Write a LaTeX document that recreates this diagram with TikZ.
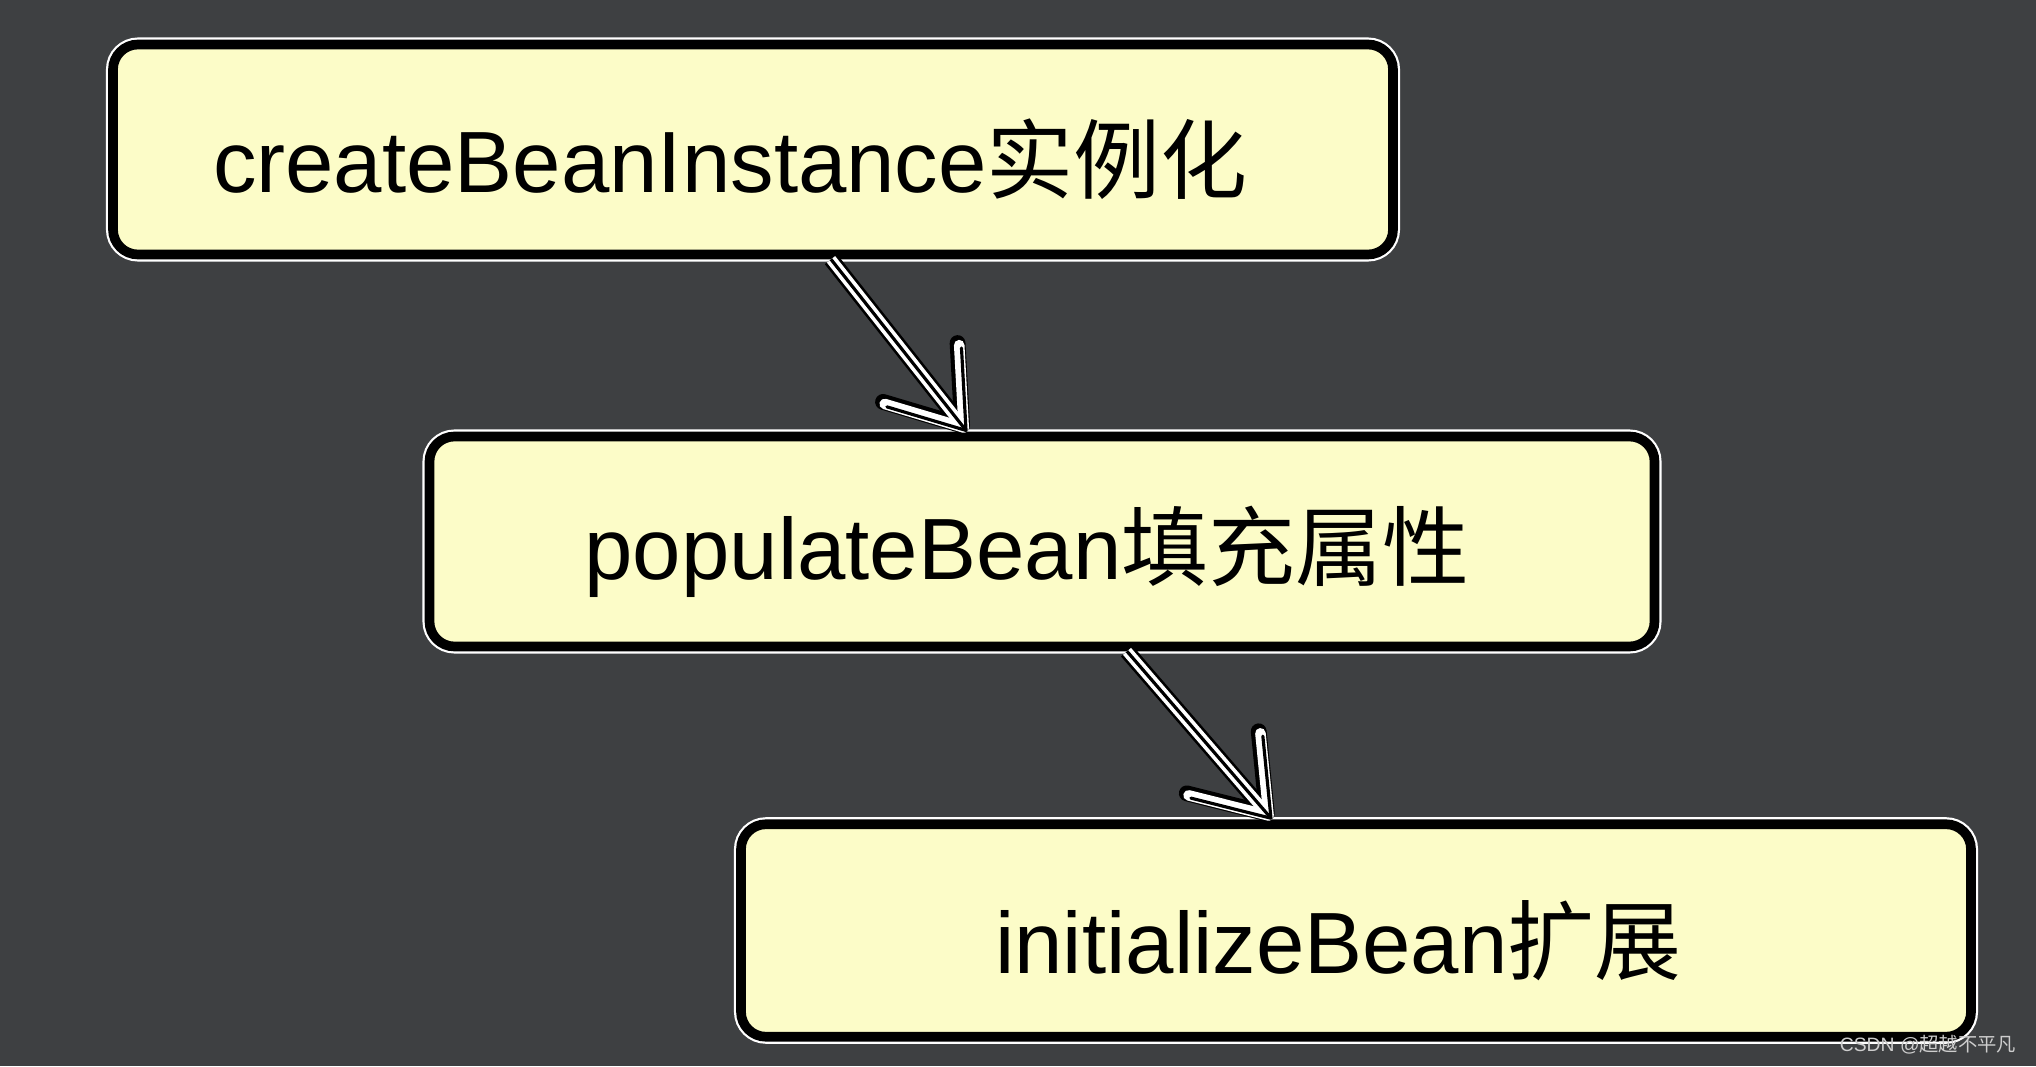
\documentclass[tikz,border=0pt]{standalone}
\usepackage{fontspec}
\setmainfont{Liberation Sans}
\newfontfamily\cjk{Noto Sans CJK SC}
\usepackage{tikz}
\usetikzlibrary{arrows.meta}
\definecolor{slate}{RGB}{62,64,66}
\definecolor{beancream}{RGB}{252,252,200}
\definecolor{marklight}{RGB}{205,205,205}

\tikzset{
  phase/.style={rectangle,rounded corners=0.5cm,fill=beancream,draw=black,line width=5.5pt,
    preaction={draw=white,line width=8pt},
    minimum height=4.2cm,font=\fontsize{49.5}{57}\selectfont},
  tipV/.style={-{Straight Barb[round,length=1.35cm,width=1.9cm]}},
  flow/.style={tipV,draw=black,line width=1.8pt,
    preaction={draw=black,line width=9pt,tipV},
    preaction={draw=white,line width=6pt,tipV}}
}
\newcommand{\lowtext}[1]{\raisebox{-0.2cm}[\height][\depth]{#1}}

\begin{document}
\begin{tikzpicture}
\fill[slate] (0,0) rectangle (40.72,21.32);
\useasboundingbox (0,0) rectangle (40.72,21.32);
\node[phase,minimum width=25.6cm] (create) at (15.06,18.33) {\lowtext{createBeanInstance{\cjk 实例化}}\hspace*{0.9cm}};
\node[phase,minimum width=24.5cm] (populate) at (20.84,10.49) {\lowtext{populateBean{\cjk 填充属性}}\hspace*{0.6cm}};
\node[phase,minimum width=24.6cm,minimum height=4.25cm] (init) at (27.12,2.71) {\lowtext{initializeBean{\cjk 扩展}}\hspace*{0.7cm}};
\draw[flow] ([xshift=1.56cm]create.south) -- ([xshift=-1.5cm]populate.north);
\draw[flow] ([xshift=1.7cm]populate.south) -- ([xshift=-1.68cm]init.north);
\node[text=marklight,font=\fontsize{11}{13}\selectfont,anchor=east] (mark) at (40.45,0.42) {CSDN @{\cjk 超越不平凡}};
\end{tikzpicture}
\end{document}
